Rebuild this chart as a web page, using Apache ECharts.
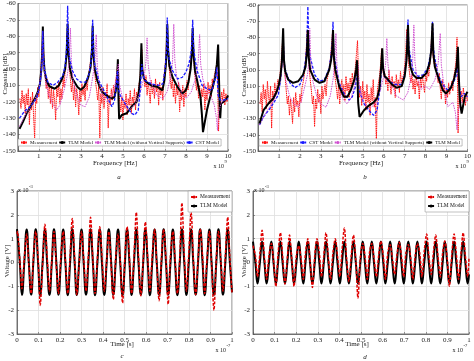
<!DOCTYPE html>
<html>
<head>
<meta charset="utf-8">
<script src="https://cdn.jsdelivr.net/npm/echarts@6/dist/echarts.min.js"></script>
<style>
html,body{margin:0;padding:0;background:#fff;}
#chart{width:474px;height:361px;}
</style>
</head>
<body>
<div id="chart"></div>
<script>
// ---------------- DATA ----------------
// (a) crosstalk, frequency in GHz (x 10^9 Hz), dB
const measFreqStart = 0.10;   // measurement sampling start (GHz)
const measFreqStep = 0.05;    // measurement sampling step (GHz)
const measA = [
  -118,-124,-113,-121,-116,-127,-115,-122,-112,-134,-117,-125,-114,-129,-142,-116,-121,-111,-117,
  -108,-100,-88,-80,-97,-104,
  -112,-106,-118,-109,-121,-111,-124,-113,-119,-131,-110,-117,-108,-121,-112,-118,-106,-111,
  -101,-94,-78,-86,-99,-106,
  -114,-107,-119,-110,-123,-112,-117,-128,-113,-120,-109,-116,-111,-119,-107,-113,-104,-101,
  -96,-90,-77,-89,-100,-108,
  -113,-119,-110,-142,-115,-121,-111,-124,-114,-118,-109,-136,-116,-122,-112,-119,-110,-115,
  -108,-103,-97,-112,-120,
  -126,-117,-131,-119,-124,-115,-128,-118,-122,-113,-127,-117,-121,-112,-125,-114,-118,-110,-107,
  -98,-88,-102,-106,
  -111,-104,-116,-108,-113,-121,-107,-115,-110,-118,-106,-114,-109,-122,-108,-116,-111,-119,-104,-100,
  -90,-76,-88,-99,-106,
  -112,-105,-117,-109,-121,-111,-116,-108,-126,-113,-119,-110,-123,-112,-117,-107,-113,-103,-99,
  -91,-79,-90,-100,-107,
  -113,-106,-118,-110,-122,-112,-117,-109,-125,-113,-119,-108,-115,-110,-117,-106,-112,-104,-101,
  -98,-103,-138,-116,-121,
  -114,-119,-112,-122,-115,-120,-117
];
const tlmA = [[0.08,-136.5],[0.25,-132],[0.42,-127],[0.6,-123],[0.81,-118],[0.95,-114],[1.05,-109],[1.12,-100],[1.16,-90],[1.19,-74],[1.22,-92],[1.27,-101],[1.36,-107],[1.5,-110.5],[1.75,-112],[1.95,-110],[2.14,-105],[2.25,-100],[2.32,-91],[2.37,-72.6],[2.41,-90],[2.47,-99],[2.6,-106],[2.84,-111],[3.0,-112.7],[3.15,-111],[3.35,-105],[3.46,-99],[3.52,-90],[3.56,-73.6],[3.6,-91],[3.66,-100],[3.78,-107],[4.0,-114],[4.32,-117],[4.48,-118],[4.6,-117],[4.68,-112],[4.73,-104],[4.76,-94],[4.79,-118],[4.82,-130.4],[4.95,-128],[5.18,-127],[5.41,-123],[5.65,-120],[5.76,-114],[5.83,-104],[5.88,-84.3],[5.92,-100],[6.0,-106],[6.12,-108],[6.35,-110],[6.66,-111],[6.88,-113],[6.97,-107],[7.04,-98],[7.08,-89],[7.11,-72.6],[7.15,-88],[7.21,-98],[7.36,-105],[7.6,-111],[7.83,-115],[7.99,-113],[8.12,-108],[8.22,-100],[8.28,-90],[8.32,-75],[8.36,-91],[8.43,-101],[8.53,-107],[8.69,-117],[8.76,-128],[8.81,-138.5],[8.86,-137.5],[9.0,-125],[9.23,-113],[9.39,-105],[9.47,-97],[9.53,-85],[9.57,-105],[9.61,-125],[9.63,-130],[9.67,-121],[9.78,-120],[9.94,-118],[10,-116]];
const magA = [[0.08,-135],[0.4,-127],[0.8,-119],[1.0,-112],[1.1,-104],[1.15,-96],[1.18,-77],[1.22,-97],[1.3,-106],[1.45,-115],[1.65,-121],[1.85,-125],[2.0,-122],[2.2,-113],[2.35,-104],[2.44,-96],[2.5,-75],[2.55,-96],[2.62,-106],[2.8,-116],[3.0,-122],[3.2,-123],[3.4,-117],[3.55,-106],[3.66,-96],[3.73,-79],[3.78,-98],[3.86,-108],[4.05,-117],[4.25,-120],[4.45,-117],[4.62,-110],[4.72,-103],[4.78,-97],[4.83,-109],[5.0,-119],[5.3,-125],[5.6,-121],[5.85,-113],[6.02,-104],[6.1,-95],[6.15,-81],[6.2,-97],[6.3,-107],[6.6,-116],[6.9,-118],[7.1,-114],[7.25,-106],[7.36,-96],[7.42,-72.6],[7.47,-95],[7.56,-105],[7.8,-115],[8.0,-118],[8.25,-114],[8.45,-106],[8.58,-96],[8.65,-79],[8.7,-97],[8.8,-106],[9.0,-114],[9.2,-117],[9.35,-122],[9.45,-130],[9.5,-137.5],[9.55,-126],[9.7,-120],[10,-118]];
const cstA = [[0.08,-130],[0.3,-126],[0.58,-123],[0.89,-118],[1.02,-112],[1.1,-104],[1.15,-95],[1.19,-76.6],[1.23,-95],[1.28,-101],[1.43,-108],[1.67,-110],[1.9,-108],[2.14,-104],[2.25,-98],[2.32,-88],[2.37,-61.4],[2.41,-86],[2.47,-94],[2.6,-101],[2.8,-106],[3.0,-108],[3.23,-108],[3.39,-103],[3.48,-96],[3.53,-85],[3.56,-70],[3.6,-88],[3.66,-97],[3.85,-107],[4.09,-113],[4.32,-119],[4.48,-123],[4.6,-119],[4.68,-111],[4.74,-101],[4.78,-112],[4.87,-116],[5.1,-121],[5.41,-127],[5.57,-128],[5.73,-125],[5.83,-112],[5.9,-97],[5.95,-103],[6.04,-107],[6.35,-109],[6.66,-110],[6.9,-109],[7.0,-101],[7.07,-90],[7.11,-68.5],[7.15,-87],[7.2,-94],[7.36,-101],[7.6,-106],[7.83,-105],[7.99,-102],[8.14,-97],[8.24,-90],[8.29,-82],[8.32,-70],[8.36,-86],[8.42,-93],[8.53,-101],[8.77,-110],[9.0,-112],[9.23,-113],[9.35,-108],[9.42,-104],[9.47,-99],[9.5,-108],[9.53,-116],[9.63,-119],[9.78,-119],[10,-118]];

// (b) crosstalk
const measB = [
  -121,-114,-126,-109,-118,-112,-124,-107,-116,-121,-110,-136,-113,-119,-108,-115,-111,-106,-110,
  -103,-96,-86,-79,-98,-105,
  -113,-121,-116,-128,-118,-124,-133,-117,-126,-114,-122,-119,-129,-115,-120,-111,-108,-104,
  -97,-88,-76,-85,-100,-107,
  -113,-121,-116,-135,-118,-124,-112,-120,-115,-127,-110,-118,-113,-109,-116,-106,-103,-99,
  -94,-86,-78,-90,-101,-107,
  -112,-118,-108,-121,-111,-106,-115,-109,-119,-104,-113,-108,-117,-105,-111,-102,-109,-104,
  -98,-90,-82,-105,-117,
  -110,-122,-107,-118,-113,-125,-109,-120,-115,-128,-111,-119,-106,-123,-117,-145,-112,-108,-104,
  -97,-87,-99,-104,
  -102,-109,-105,-113,-100,-108,-115,-104,-111,-107,-117,-103,-110,-106,-114,-101,-108,-105,-103,-98,
  -90,-75,-88,-98,-104,
  -108,-103,-112,-106,-115,-104,-110,-107,-118,-105,-111,-103,-109,-114,-102,-107,-100,-104,-97,
  -89,-76,-91,-96,-94,
  -99,-104,-108,-102,-111,-118,-106,-113,-109,-121,-112,-117,-108,-115,-111,-107,-113,-104,-100,
  -95,-80,-139,-112,-118,
  -113,-120,-111,-117,-122,-114,-119
];
const cstB = [[0.07,-134],[0.26,-129],[0.5,-125],[0.73,-120.7],[0.97,-115.5],[1.08,-106],[1.14,-97],[1.2,-79.5],[1.25,-96],[1.31,-100],[1.52,-108],[1.76,-111],[2.0,-109],[2.15,-104],[2.27,-94],[2.33,-85],[2.38,-61],[2.43,-85],[2.49,-92],[2.7,-103],[2.94,-107],[3.17,-106],[3.4,-99],[3.51,-88],[3.55,-82],[3.58,-70.3],[3.62,-88],[3.67,-94],[3.87,-108],[4.1,-114.5],[4.35,-118.6],[4.5,-116.6],[4.66,-110],[4.73,-100],[4.78,-108],[4.85,-113],[5.05,-120.7],[5.29,-125],[5.52,-128],[5.68,-125],[5.84,-110],[5.93,-92],[5.98,-100],[6.03,-104],[6.23,-107],[6.55,-109],[6.86,-109],[7.0,-103],[7.09,-92],[7.16,-69],[7.2,-86],[7.25,-90],[7.4,-100],[7.64,-104],[7.88,-103],[8.1,-99],[8.24,-90],[8.3,-82],[8.33,-70.3],[8.37,-86],[8.43,-92],[8.59,-103],[8.82,-109],[9.06,-112.5],[9.29,-109],[9.45,-104],[9.53,-98],[9.57,-106],[9.61,-110],[9.69,-116.6],[9.85,-114.5],[10,-116.6]];
const magB = [[0.07,-134],[0.4,-126],[0.8,-118],[1.0,-111],[1.1,-104],[1.16,-95],[1.2,-78],[1.24,-97],[1.32,-106],[1.5,-116],[1.7,-121],[1.9,-123],[2.05,-120],[2.2,-112],[2.36,-103],[2.43,-95],[2.47,-74.4],[2.52,-95],[2.6,-106],[2.8,-116],[3.0,-121],[3.25,-123],[3.45,-116],[3.58,-106],[3.66,-96],[3.72,-77.5],[3.77,-98],[3.85,-108],[4.05,-118],[4.25,-121],[4.45,-117],[4.6,-110],[4.7,-102],[4.78,-97],[4.84,-110],[5.0,-119],[5.3,-124],[5.6,-121],[5.85,-112],[6.02,-103],[6.1,-95],[6.15,-80.6],[6.2,-96],[6.3,-107],[6.6,-116],[6.94,-118.6],[7.15,-114],[7.3,-105],[7.38,-95],[7.44,-72.3],[7.49,-95],[7.58,-104],[7.8,-112],[7.96,-110],[8.2,-112],[8.45,-106],[8.6,-96],[8.7,-77.5],[8.75,-97],[8.85,-107],[9.06,-122.7],[9.3,-120],[9.42,-126],[9.5,-137],[9.55,-125],[9.7,-120],[10,-119]];
const tlmB = [[0.07,-133],[0.26,-125],[0.5,-120.7],[0.73,-117.6],[0.89,-113.5],[1.0,-109],[1.08,-103],[1.14,-95],[1.2,-74.4],[1.24,-94],[1.3,-101],[1.44,-106],[1.67,-108],[1.92,-107],[2.15,-103],[2.27,-98],[2.33,-90],[2.38,-75.4],[2.42,-92],[2.49,-100],[2.7,-106],[2.94,-108],[3.17,-107],[3.4,-100],[3.49,-94],[3.54,-88],[3.58,-75.4],[3.62,-92],[3.69,-100],[3.87,-110],[4.1,-116.6],[4.27,-116.6],[4.43,-112.5],[4.6,-106],[4.68,-100],[4.73,-94],[4.78,-120],[4.85,-129],[5.05,-125],[5.29,-122],[5.52,-120],[5.68,-117.6],[5.79,-112],[5.87,-100],[5.93,-86.7],[5.97,-99],[6.05,-104],[6.15,-105],[6.39,-109],[6.62,-111],[6.86,-110],[7.0,-104],[7.09,-94],[7.16,-72.3],[7.2,-90],[7.27,-98],[7.4,-103],[7.57,-105],[7.8,-105],[8.04,-102],[8.19,-96],[8.27,-88],[8.33,-71.3],[8.37,-90],[8.44,-98],[8.51,-101],[8.67,-107],[8.82,-112.5],[8.98,-114.5],[9.21,-111],[9.37,-105],[9.48,-98],[9.54,-85.7],[9.58,-102],[9.62,-115],[9.65,-120.7],[9.72,-127],[9.78,-122.7],[9.87,-116.6],[10,-113.5]];

// (c) time domain, time in units of 1e-7 s, voltage in units of 1e-3 V
const measC = [[0.000,1.2],[0.002,1.3],[0.013,0.1],[0.023,-1.1],[0.034,0.2],[0.045,1.2],[0.055,-0.1],[0.066,-1.3],[0.076,0.15],[0.087,1.3],[0.098,0.2],[0.108,-1.8],[0.119,-0.1],[0.130,1.6],[0.140,0.3],[0.151,-1.2],[0.162,0.1],[0.172,1.3],[0.183,-0.2],[0.193,-1.3],[0.204,0.25],[0.215,1.3],[0.225,0.1],[0.236,-1.3],[0.247,0.3],[0.257,1.85],[0.268,0.2],[0.278,-1.35],[0.289,-0.1],[0.300,1.3],[0.310,0.2],[0.321,-1.2],[0.332,0.3],[0.342,1.9],[0.353,0.1],[0.363,-1.3],[0.374,0.2],[0.385,1.5],[0.395,0.3],[0.406,-1.2],[0.417,0.1],[0.427,1.3],[0.438,-0.2],[0.448,-1.55],[0.459,0.2],[0.470,1.2],[0.480,0.1],[0.491,-1.7],[0.502,0.3],[0.512,1.5],[0.523,0.2],[0.533,-1.3],[0.544,0.25],[0.555,2.1],[0.565,0.3],[0.576,-1.4],[0.587,0.1],[0.597,1.7],[0.608,0.2],[0.618,-1.2],[0.629,0.3],[0.640,1.4],[0.650,-0.1],[0.661,-1.6],[0.672,0.2],[0.682,1.4],[0.693,0.1],[0.703,-1.75],[0.714,0.3],[0.725,1.3],[0.735,0.2],[0.746,-1.3],[0.757,0.2],[0.767,2.5],[0.778,0.3],[0.788,-1.2],[0.799,0.4],[0.810,2.1],[0.820,0.2],[0.831,-1.35],[0.842,0.1],[0.852,1.4],[0.863,0.3],[0.873,-1.3],[0.884,0.2],[0.895,1.3],[0.905,-0.1],[0.916,-2.0],[0.927,0.2],[0.937,1.3],[0.948,0.1],[0.958,-1.2],[0.969,0.3],[0.980,1.9],[0.990,0.2],[1.000,-1.3]];
const tlmC = [[0.000,1.40],[0.013,0],[0.023,-1.36],[0.034,0],[0.045,1.38],[0.055,0],[0.066,-1.35],[0.076,0],[0.087,1.39],[0.098,0],[0.108,-1.37],[0.119,0],[0.130,1.38],[0.140,0],[0.151,-1.36],[0.162,0],[0.172,1.40],[0.183,0],[0.193,-1.35],[0.204,0],[0.215,1.38],[0.225,0],[0.236,-1.37],[0.247,0],[0.257,1.39],[0.268,0],[0.278,-1.36],[0.289,0],[0.300,1.38],[0.310,0],[0.321,-1.35],[0.332,0],[0.342,1.40],[0.353,0],[0.363,-1.37],[0.374,0],[0.385,1.38],[0.395,0],[0.406,-1.36],[0.417,0],[0.427,1.39],[0.438,0],[0.448,-1.35],[0.459,0],[0.470,1.38],[0.480,0],[0.491,-1.37],[0.502,0],[0.512,1.40],[0.523,0],[0.533,-1.36],[0.544,0],[0.555,1.38],[0.565,0],[0.576,-1.35],[0.587,0],[0.597,1.39],[0.608,0],[0.618,-1.37],[0.629,0],[0.640,1.38],[0.650,0],[0.661,-1.36],[0.672,0],[0.682,1.40],[0.693,0],[0.703,-1.35],[0.714,0],[0.725,1.38],[0.735,0],[0.746,-1.37],[0.757,0],[0.767,1.39],[0.778,0],[0.788,-1.36],[0.799,0],[0.810,1.38],[0.820,0],[0.831,-1.35],[0.842,0],[0.852,1.40],[0.863,0],[0.873,-1.37],[0.884,0],[0.895,1.38],[0.905,0],[0.916,-1.36],[0.927,0],[0.937,1.39],[0.948,0],[0.958,-1.35],[0.969,0],[0.980,1.38],[0.990,0],[1.000,-1.25]];

// (d)
const measD = [[0.000,0.7],[0.011,0.3],[0.021,-0.6],[0.032,0.4],[0.042,1.35],[0.053,0.2],[0.063,-0.7],[0.074,0.3],[0.085,0.8],[0.095,0.1],[0.106,-1.0],[0.116,0.35],[0.127,1.25],[0.137,0.3],[0.148,-0.9],[0.159,0.2],[0.169,1.15],[0.180,0.1],[0.190,-1.0],[0.201,0.3],[0.212,0.7],[0.222,0.2],[0.233,-0.7],[0.243,0.4],[0.254,1.0],[0.264,0.1],[0.275,-1.05],[0.286,0.3],[0.296,1.0],[0.307,0.4],[0.317,-0.6],[0.328,0.3],[0.338,1.25],[0.349,0.2],[0.359,-0.7],[0.370,0.4],[0.381,1.0],[0.391,0.3],[0.402,-0.6],[0.412,0.5],[0.423,1.45],[0.433,0.2],[0.444,-0.8],[0.455,0.3],[0.465,1.15],[0.476,0.1],[0.486,-1.5],[0.497,0.2],[0.508,0.8],[0.518,0.3],[0.529,-0.7],[0.539,0.4],[0.550,0.8],[0.560,0.2],[0.571,-0.6],[0.582,0.3],[0.592,0.9],[0.603,0.3],[0.613,-0.7],[0.624,0.4],[0.635,0.75],[0.645,0.2],[0.656,-0.5],[0.666,0.3],[0.677,0.85],[0.687,0.3],[0.698,-0.6],[0.708,0.4],[0.719,0.75],[0.730,0.2],[0.740,-0.7],[0.751,0.3],[0.761,0.8],[0.772,0.4],[0.782,-0.6],[0.793,0.5],[0.804,1.2],[0.814,0.3],[0.825,-0.5],[0.835,0.4],[0.846,1.15],[0.856,0.3],[0.867,-0.6],[0.878,0.4],[0.888,0.9],[0.899,0.2],[0.909,-1.0],[0.920,0.3],[0.931,1.2],[0.941,0.4],[0.952,-0.7],[0.962,0.3],[0.973,1.25],[0.983,0.3],[0.994,-0.6],[1.000,0.2]];
const tlmD = [[0.000,0.88],[0.011,0],[0.021,-0.88],[0.032,0],[0.042,0.88],[0.053,0],[0.063,-0.88],[0.074,0],[0.085,0.88],[0.095,0],[0.106,-0.88],[0.116,0],[0.127,0.88],[0.137,0],[0.148,-0.88],[0.159,0],[0.169,0.88],[0.180,0],[0.190,-0.88],[0.201,0],[0.212,0.88],[0.222,0],[0.233,-0.88],[0.243,0],[0.254,0.88],[0.264,0],[0.275,-0.88],[0.286,0],[0.296,0.88],[0.307,0],[0.317,-0.88],[0.328,0],[0.338,0.88],[0.349,0],[0.359,-0.88],[0.370,0],[0.381,0.88],[0.391,0],[0.402,-0.88],[0.412,0],[0.423,0.88],[0.433,0],[0.444,-0.88],[0.455,0],[0.465,0.88],[0.476,0],[0.486,-0.88],[0.497,0],[0.508,0.88],[0.518,0],[0.529,-0.88],[0.539,0],[0.550,0.88],[0.560,0],[0.571,-0.88],[0.582,0],[0.592,0.88],[0.603,0],[0.613,-0.88],[0.624,0],[0.635,0.88],[0.645,0],[0.656,-0.88],[0.666,0],[0.677,0.88],[0.687,0],[0.698,-0.88],[0.708,0],[0.719,0.88],[0.730,0],[0.740,-0.88],[0.751,0],[0.761,0.88],[0.772,0],[0.782,-0.88],[0.793,0],[0.804,0.88],[0.814,0],[0.825,-0.88],[0.835,0],[0.846,0.88],[0.856,0],[0.867,-0.88],[0.878,0],[0.888,0.88],[0.899,0],[0.909,-0.88],[0.920,0],[0.931,0.88],[0.941,0],[0.952,-0.88],[0.962,0],[0.973,0.88],[0.983,0],[0.994,-0.88],[1.000,-0.5]];

// ---------------- CHART ----------------
const FONT = "'Liberation Serif','Times New Roman',serif";
const withFreq = vals => vals.map((v, i) => [+(measFreqStart + i * measFreqStep).toFixed(2), v]);

const axisLineStyle = {show: true, onZero: false, lineStyle: {color: '#555', width: 0.8}};
const splitStyle = {show: true, lineStyle: {color: '#dedede', width: 0.8}};
const tickStyle = {show: true, inside: true, length: 2, lineStyle: {color: '#555', width: 0.6}};
const lab = extra => Object.assign({fontSize: 7, fontFamily: FONT, color: '#222', margin: 2}, extra || {});

function freqX(gi) {
  return {gridIndex: gi, type: 'value', min: 0, max: 10, interval: 1,
    axisLine: axisLineStyle, axisTick: tickStyle, splitLine: splitStyle,
    axisLabel: lab({margin: 2, formatter: v => v === 0 ? '' : String(v)})};
}
function dbY(gi) {
  return {gridIndex: gi, type: 'value', min: -150, max: -60, interval: 10,
    axisLine: axisLineStyle, axisTick: tickStyle, splitLine: splitStyle, axisLabel: lab({margin: 2})};
}
function timeX(gi) {
  return {gridIndex: gi, type: 'value', min: 0, max: 1, interval: 0.1,
    axisLine: axisLineStyle, axisTick: tickStyle, splitLine: splitStyle, axisLabel: lab({margin: 3})};
}
function voltY(gi) {
  return {gridIndex: gi, type: 'value', min: -3, max: 3, interval: 1,
    axisLine: axisLineStyle, axisTick: tickStyle, splitLine: splitStyle, axisLabel: lab({margin: 3})};
}

const RED = '#ff1010', BLACK = '#000', BLUE = '#1a1aff', MAG = '#d050d0';
function line(name, gi, data, color, width, type, smooth) {
  return {name, type: 'line', xAxisIndex: gi, yAxisIndex: gi, data, showSymbol: false, symbol: 'none',
    smooth: smooth || false, lineStyle: {color, width, type: type || 'solid'}, itemStyle: {color}, silent: true};
}

const sp1 = ' ', sp2 = '  ', sp3 = '   ';
const series = [
  line('Measurement', 0, withFreq(measA), RED, 1, [1.5, 0.7]),
  line('TLM Model', 0, tlmA, BLACK, 2),
  line('TLM Model (without Vertical Supports)', 0, magA, MAG, 1, [1.5, 1]),
  line('CST Model', 0, cstA, BLUE, 1.3, [3, 1.5]),

  line('Measurement' + sp1, 1, withFreq(measB), RED, 1, [1.5, 0.7]),
  line('CST Model' + sp1, 1, cstB, BLUE, 1.3, [3, 1.5]),
  line('TLM Model (without Vertical Supports)' + sp1, 1, magB, MAG, 1, [1.5, 1]),
  line('TLM Model' + sp1, 1, tlmB, BLACK, 2),

  line('TLM Model' + sp2, 2, tlmC, BLACK, 2, 'solid', 0.5),
  line('Measurement' + sp2, 2, measC, '#e00000', 1.5, [3, 1.5], 0.3),

  line('TLM Model' + sp3, 3, tlmD, BLACK, 2, 'solid', 0.5),
  line('Measurement' + sp3, 3, measD, '#e00000', 1.5, [3, 1.5], 0.3)
];

const legBase = {
  backgroundColor: '#fff', borderColor: '#999', borderWidth: 0.6, borderRadius: 0,
  itemWidth: 6, itemHeight: 4, itemGap: 1, padding: [1, 2],
  textStyle: {fontSize: 5, fontFamily: FONT, color: '#111', padding: [0, 0, 0, -2]},
  formatter: n => n.trim(), selectedMode: false
};
const legends = [
  Object.assign({}, legBase, {left: 18, top: 139,
    data: ['Measurement', 'TLM Model', 'TLM Model (without Vertical Supports)', 'CST Model']}),
  Object.assign({}, legBase, {left: 259, top: 139, width: 214,
    data: ['Measurement' + sp1, 'CST Model' + sp1, 'TLM Model (without Vertical Supports)' + sp1, 'TLM Model' + sp1]}),
  Object.assign({}, legBase, {right: 242, top: 191, orient: 'vertical', itemGap: 3, padding: [3, 2],
    textStyle: {fontSize: 5.5, fontFamily: FONT, color: '#111', padding: [0, 0, 0, -2]},
    data: ['Measurement' + sp2, 'TLM Model' + sp2]}),
  Object.assign({}, legBase, {right: 5, top: 191, orient: 'vertical', itemGap: 3, padding: [3, 2],
    textStyle: {fontSize: 5.5, fontFamily: FONT, color: '#111', padding: [0, 0, 0, -2]},
    data: ['Measurement' + sp3, 'TLM Model' + sp3]})
];

function txt(x, y, text, o) {
  o = o || {};
  return {type: 'text', x, y, rotation: o.rot || 0, z: 100, silent: true,
    style: {text, fontFamily: FONT, fontSize: o.size || 7, fill: '#222',
      align: o.align || 'center', verticalAlign: 'middle', fontStyle: o.italic ? 'italic' : 'normal'}};
}
const graphics = [
  txt(5, 74, 'Crosstalk [dB]', {rot: Math.PI / 2}),
  txt(244, 76, 'Crosstalk [dB]', {rot: Math.PI / 2}),
  txt(115, 163, 'Frequency [Hz]'),
  txt(361, 163, 'Frequency [Hz]'),
  txt(224, 166, 'x 10', {align: 'right', size: 6}),
  txt(224.5, 162, '9', {align: 'left', size: 4.5}),
  txt(466, 166, 'x 10', {align: 'right', size: 6}),
  txt(466.5, 162, '9', {align: 'left', size: 4.5}),
  txt(119, 177, 'a', {italic: true}),
  txt(365, 177, 'b', {italic: true}),
  txt(7, 261, 'Voltage [V]', {rot: Math.PI / 2}),
  txt(244, 261, 'Voltage [V]', {rot: Math.PI / 2}),
  txt(122, 344, 'Time [s]'),
  txt(357, 344, 'Time [s]'),
  txt(226, 350, 'x 10', {align: 'right', size: 6}),
  txt(226.5, 346, '-7', {align: 'left', size: 4.5}),
  txt(463, 350, 'x 10', {align: 'right', size: 6}),
  txt(463.5, 346, '-7', {align: 'left', size: 4.5}),
  txt(18, 190, 'x 10', {align: 'left', size: 6}),
  txt(29, 187, '-3', {align: 'left', size: 4.5}),
  txt(254, 190, 'x 10', {align: 'left', size: 6}),
  txt(265, 187, '-3', {align: 'left', size: 4.5}),
  txt(122, 356, 'c', {italic: true}),
  txt(365, 357, 'd', {italic: true})
];

const gridBase = {show: true, borderColor: '#555', borderWidth: 0.8, backgroundColor: '#fff', containLabel: false};
const option = {
  animation: false,
  backgroundColor: '#fff',
  grid: [
    Object.assign({left: 14, top: 3, width: 214, height: 148}, gridBase),
    Object.assign({left: 258, top: 5, width: 212, height: 146}, gridBase),
    Object.assign({left: 17, top: 191, width: 215, height: 143}, gridBase),
    Object.assign({left: 253, top: 191, width: 216, height: 143}, gridBase)
  ],
  xAxis: [freqX(0), freqX(1), timeX(2), timeX(3)],
  yAxis: [dbY(0), dbY(1), voltY(2), voltY(3)],
  legend: legends,
  series,
  graphic: graphics
};

const chart = echarts.init(document.getElementById('chart'), null, {renderer: 'canvas'});
chart.setOption(option);
</script>
</body>
</html>
